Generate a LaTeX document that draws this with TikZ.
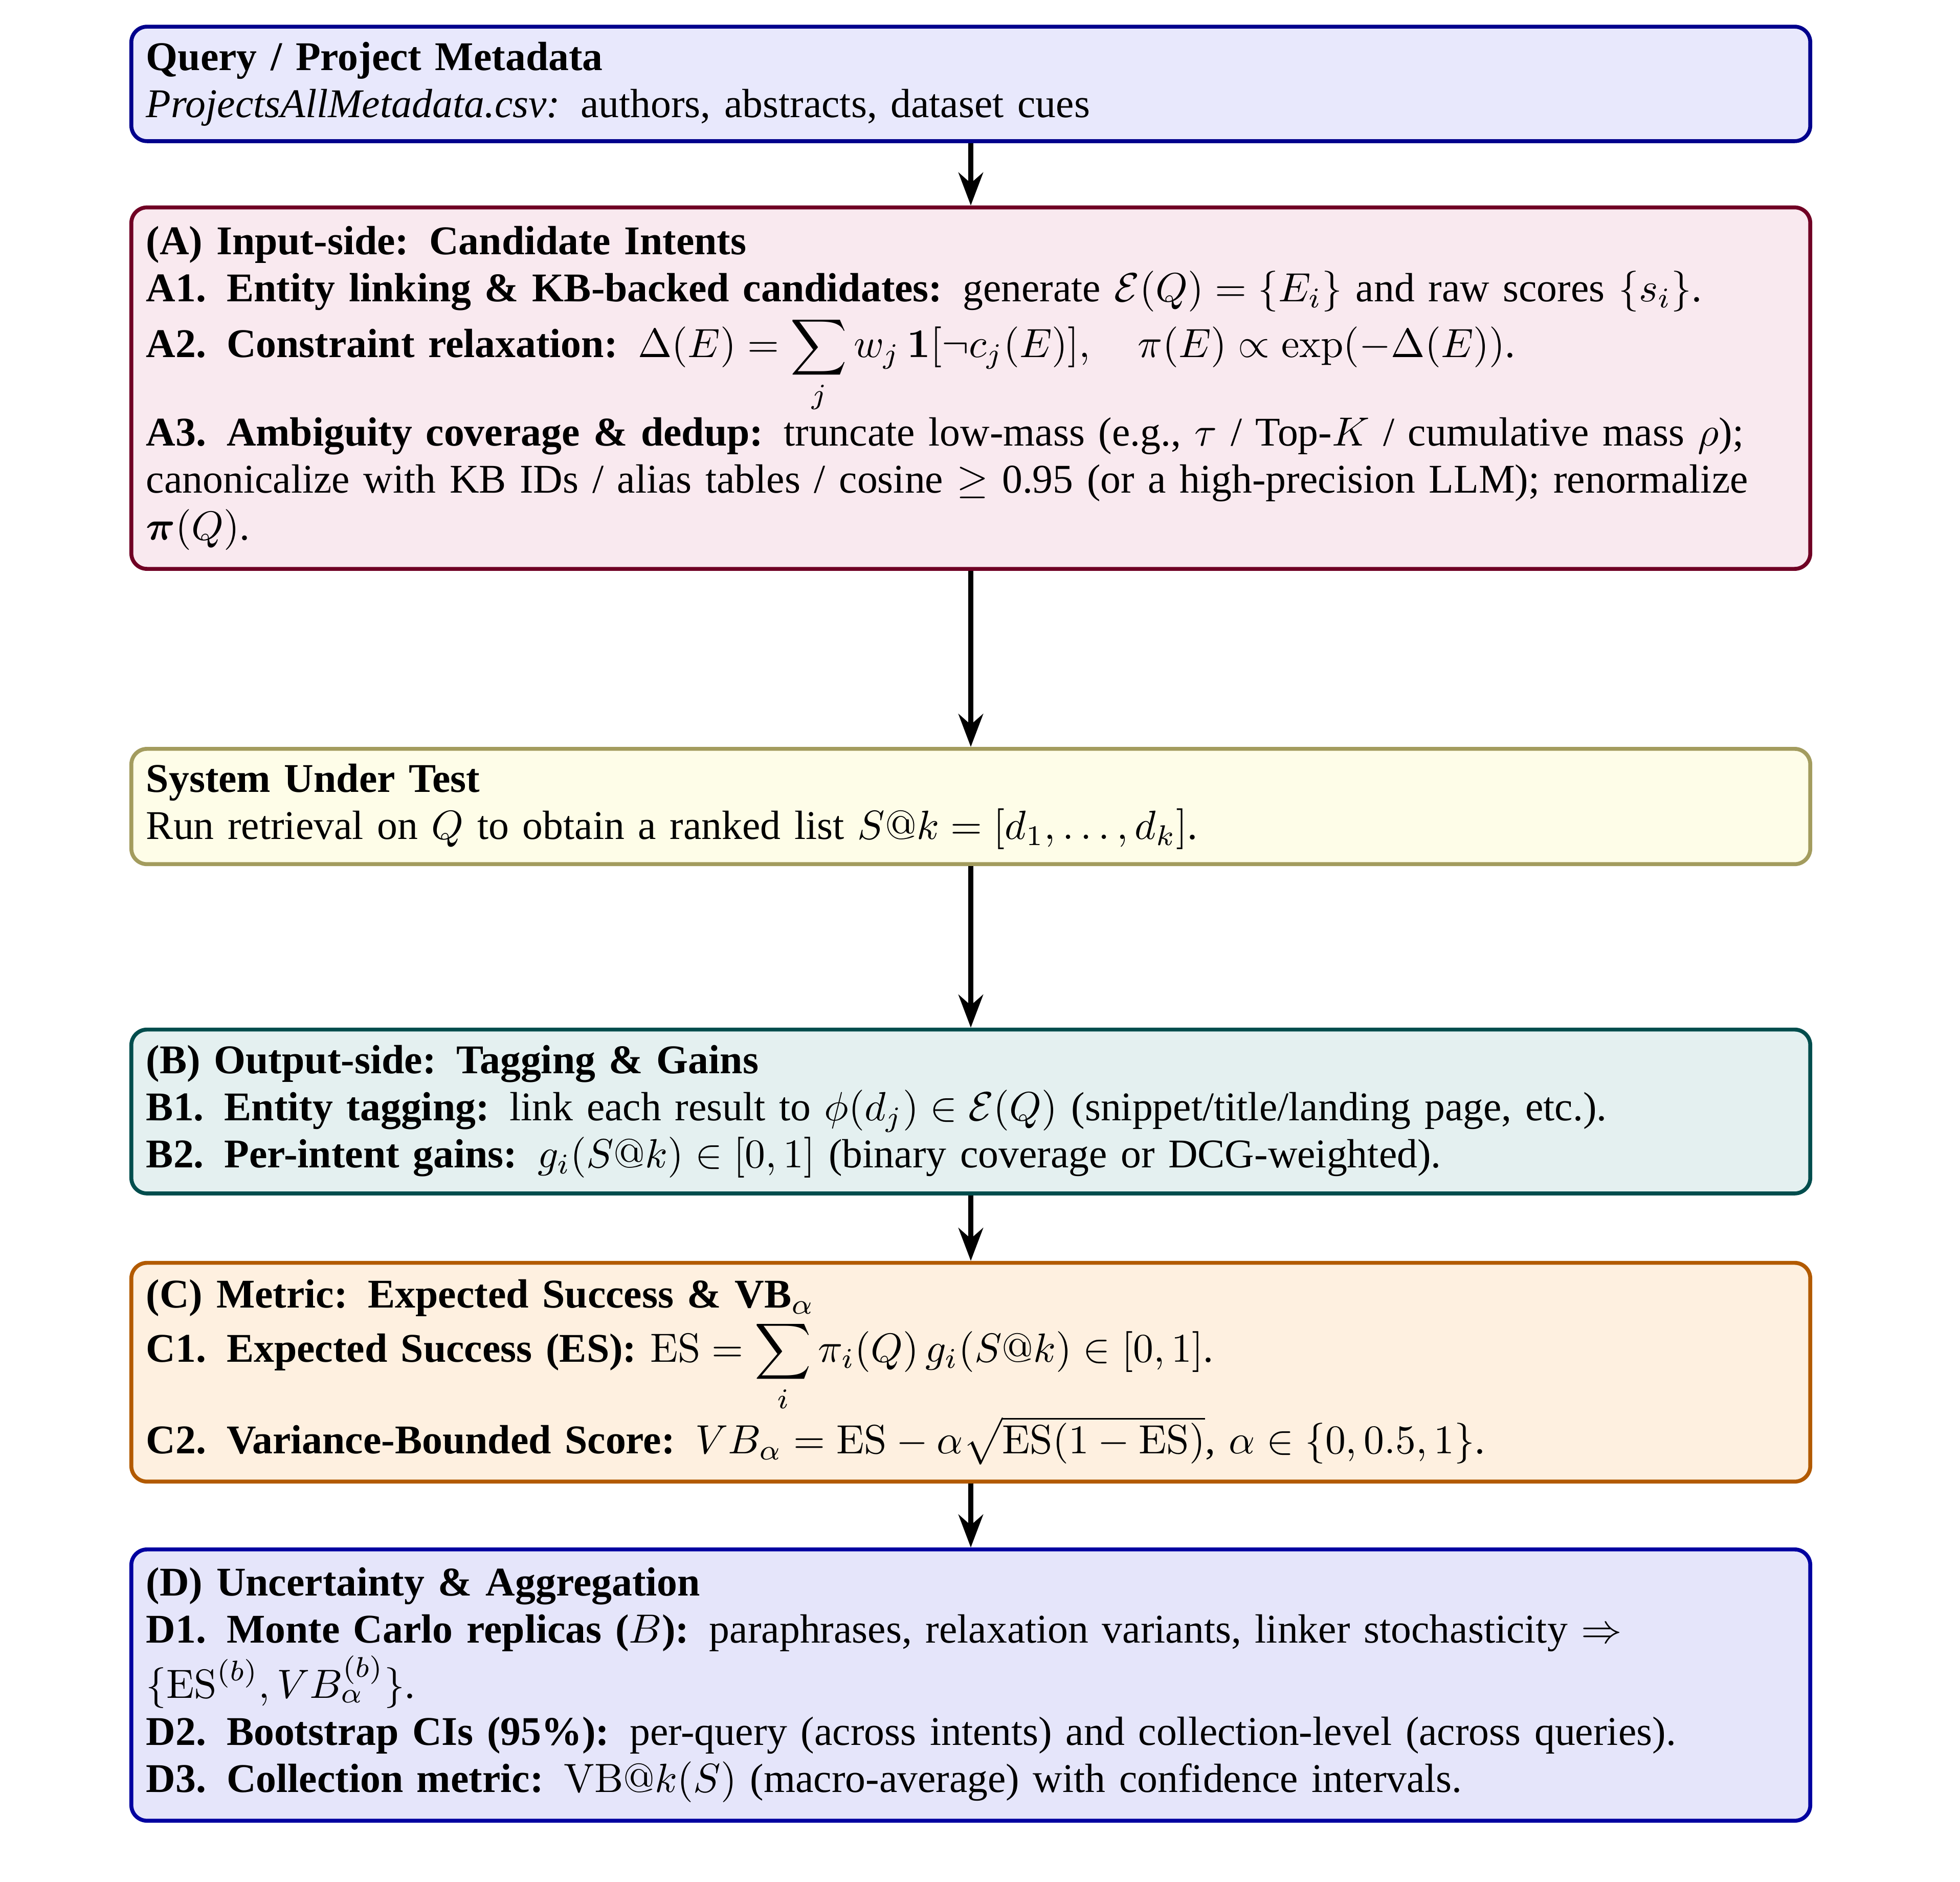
\RequirePackage{fix-cm}
\documentclass[tikz,border=0pt]{standalone}
\usepackage{amsmath}
\usepackage[no-math]{fontspec}
\setmainfont{Liberation Serif}
\usetikzlibrary{arrows.meta}
\definecolor{qborder}{RGB}{0,0,140}
\definecolor{qfill}{RGB}{232,232,252}
\definecolor{aborder}{RGB}{112,0,36}
\definecolor{afill}{RGB}{249,233,239}
\definecolor{sborder}{RGB}{163,156,94}
\definecolor{sfill}{RGB}{254,253,232}
\definecolor{bborder}{RGB}{0,77,77}
\definecolor{bfill}{RGB}{228,240,240}
\definecolor{cborder}{RGB}{178,90,0}
\definecolor{cfill}{RGB}{254,240,224}
\definecolor{dborder}{RGB}{0,0,160}
\definecolor{dfill}{RGB}{229,229,250}
\begin{document}
\begin{tikzpicture}[x=1pt,y=-1pt,
  stage/.style={draw, line width=1pt, rounded corners=4pt, anchor=north west,
    text width=420.7pt, inner sep=3.8pt, align=left,
    font=\fontsize{10.4}{12}\selectfont},
  flow/.style={-{Stealth}, line width=1.2pt}]
\useasboundingbox (0,0) rectangle (500,480);

\node[stage, draw=qborder, fill=qfill, minimum height=29.2pt] (q) at (33,6.3)
  {\textbf{Query / Project Metadata}\\
   \textit{ProjectsAllMetadata.csv:} authors, abstracts, dataset cues};

\node[stage, draw=aborder, fill=afill, minimum height=92.2pt] (a) at (33,52.4)
  {\textbf{(A) Input-side: Candidate Intents}\\
   \textbf{A1. Entity linking \& KB-backed candidates:} generate $\mathcal{E}(Q)=\{E_i\}$ and raw scores $\{s_i\}$.\\
   \textbf{A2. Constraint relaxation:} $\Delta(E)=\displaystyle\sum_j w_j\,\mathbf{1}[\neg c_j(E)],\quad \pi(E)\propto\exp(-\Delta(E))$.\\
   \textbf{A3. Ambiguity coverage \& dedup:} truncate low-mass (e.g., $\tau$ / Top-$K$ / cumulative mass $\rho$); canonicalize with KB IDs / alias tables / cosine $\geq$ 0.95 (or a high-precision LLM); renormalize $\boldsymbol{\pi}(Q)$.};

\node[stage, draw=sborder, fill=sfill, minimum height=28.6pt] (s) at (33,190.5)
  {\textbf{System Under Test}\\
   Run retrieval on $Q$ to obtain a ranked list $S@k=[d_1,\dots,d_k]$.};

\node[stage, draw=bborder, fill=bfill, minimum height=41.8pt] (b) at (33,262.1)
  {\textbf{(B) Output-side: Tagging \& Gains}\\
   \textbf{B1. Entity tagging:} link each result to $\phi(d_j)\in\mathcal{E}(Q)$ (snippet/title/landing page, etc.).\\
   \textbf{B2. Per-intent gains:} $g_i(S@k)\in[0,1]$ (binary coverage or DCG-weighted).};

\node[stage, draw=cborder, fill=cfill, minimum height=55.8pt] (c) at (33,321.6)
  {\textbf{(C) Metric: Expected Success \& VB$_\alpha$}\\
   \textbf{C1. Expected Success (ES):} $\mathrm{ES}=\displaystyle\sum_i \pi_i(Q)\,g_i(S@k)\in[0,1]$.\\
   \textbf{C2. Variance-Bounded Score:} $VB_\alpha=\mathrm{ES}-\alpha\sqrt{\mathrm{ES}(1-\mathrm{ES})}$, $\alpha\in\{0,0.5,1\}$.};

\node[stage, draw=dborder, fill=dfill, minimum height=69.2pt] (d) at (33,394.7)
  {\textbf{(D) Uncertainty \& Aggregation}\\
   \textbf{D1. Monte Carlo replicas ($B$):} paraphrases, relaxation variants, linker stochasticity $\Rightarrow$ $\{\mathrm{ES}^{(b)},VB_\alpha^{(b)}\}$.\\
   \textbf{D2. Bootstrap CIs (95\%):} per-query (across intents) and collection-level (across queries).\\
   \textbf{D3. Collection metric:} $\mathrm{VB}@k(S)$ (macro-average) with confidence intervals.};

\draw[flow] (q.south) -- (a.north);
\draw[flow] (a.south) -- (s.north);
\draw[flow] (s.south) -- (b.north);
\draw[flow] (b.south) -- (c.north);
\draw[flow] (c.south) -- (d.north);
\end{tikzpicture}
\end{document}
